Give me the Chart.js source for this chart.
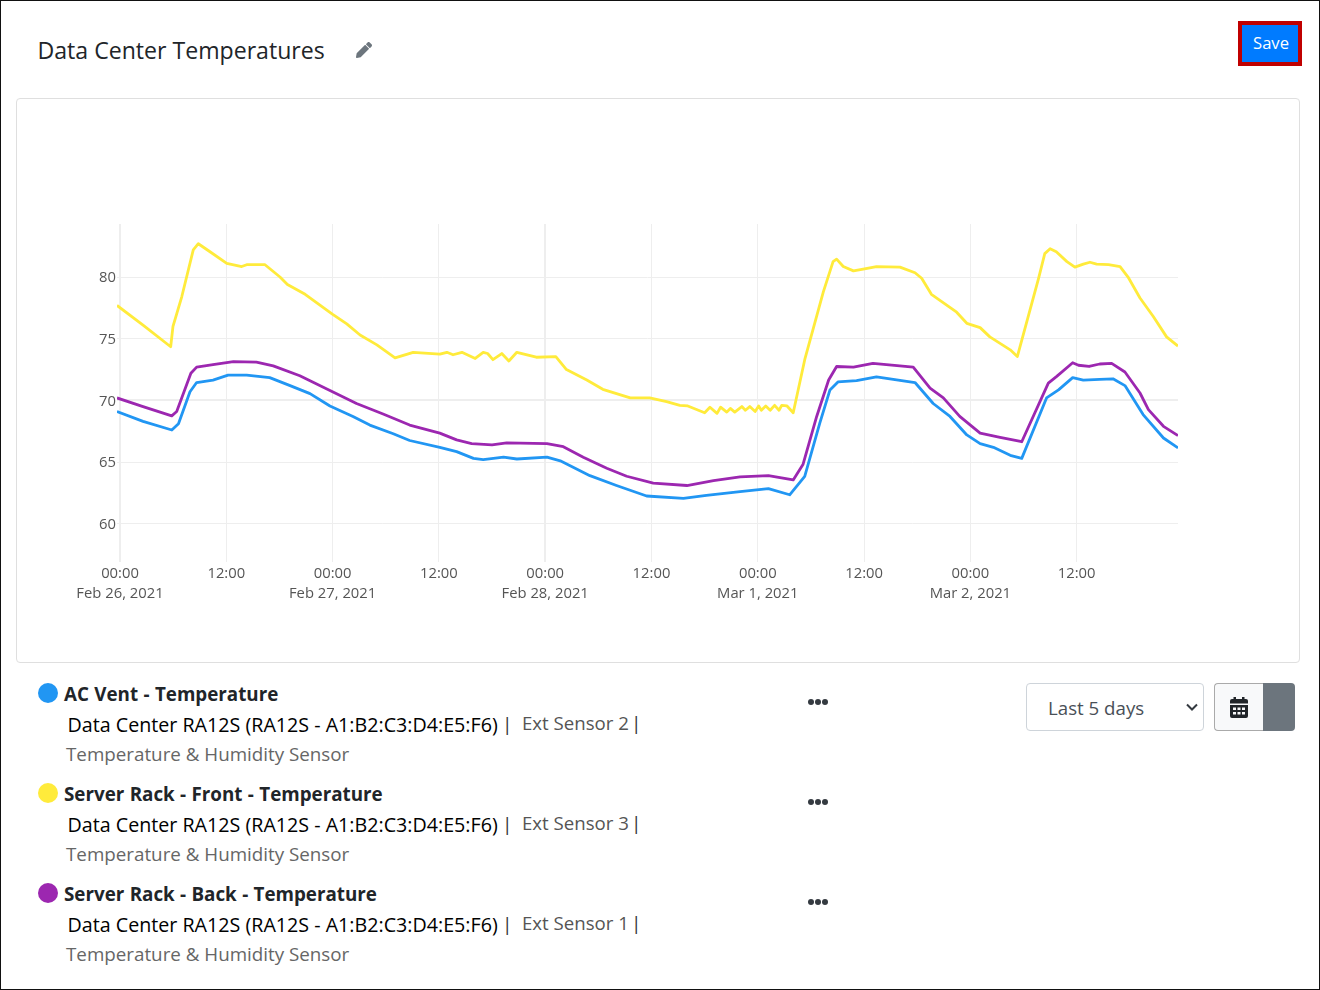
<!DOCTYPE html>
<html>
<head>
<meta charset="utf-8">
<title>Data Center Temperatures</title>
<script src="https://cdn.jsdelivr.net/npm/chart.js@4/dist/chart.umd.min.js"></script>
<style>
  html, body { margin: 0; padding: 0; background: #fff; }
  body { font-family: "Open Sans", "Noto Sans", sans-serif; color: #212529; }
  #frame { position: relative; width: 1320px; height: 990px; box-sizing: border-box; border: 1px solid #111; overflow: hidden; }
  #frame > * , #rows > * { position: absolute; white-space: nowrap; }
  /* frame border is 1px, so children are offset by -1 */
  #rows { left: 0; top: 0; }
  .title { left: 36.5px; top: 33px; font-size: 23.1px; line-height: 32px; color: #212529; }
  .pencil { left: 355px; top: 41px; width: 16px; height: 16px; fill: #6c757d; }
  .save { left: 1237px; top: 20px; width: 64px; height: 45px; box-sizing: border-box; background: #007bff; border: 4px solid #c00000; color: #fff; font-size: 16.6px; line-height: 35px; text-align: center; padding-left: 2px; }
  .card { left: 15px; top: 97px; width: 1284px; height: 565px; box-sizing: border-box; border: 1px solid #dfdfdf; border-radius: 4px; }
  canvas { position: absolute; left: 0; top: 0; }
  .dot { width: 20px; height: 20px; border-radius: 50%; }
  .name { font-size: 18.8px; font-weight: 700; line-height: 26px; color: #212529; word-spacing: 0.5px; }
  .device { font-size: 19.68px; line-height: 26px; color: #000; }
  .sep { font-size: 19px; line-height: 26px; color: #333; }
  .ext { font-size: 18.65px; line-height: 26px; color: #555; }
  .kind { font-size: 18.8px; line-height: 26px; color: #666; }
  .more { width: 20px; height: 6px; fill: #343a40; }
  .range { left: 1025px; top: 682px; width: 178px; height: 48px; box-sizing: border-box; border: 1px solid #ced4da; border-radius: 4px; font-size: 18.7px; line-height: 48px; color: #495057; padding-left: 21px; }
  .chev { position: absolute; left: 159px; top: 19px; width: 12px; height: 8px; }
  .cal { left: 1213px; top: 682px; width: 49px; height: 48px; box-sizing: border-box; background: #f8f9fa; border: 1px solid #aaa; border-right: 0; border-radius: 4px 0 0 4px; }
  .cal svg { position: absolute; left: 15px; top: 13px; width: 18px; height: 21px; }
  .calside { left: 1262px; top: 682px; width: 32px; height: 48px; background: #6c757d; border-radius: 0 4px 4px 0; }
</style>
</head>
<body>
<div id="frame">
  <div class="title">Data Center Temperatures</div>
  <svg class="pencil" viewBox="0 0 512 512"><path d="M497.9 142.1l-46.1 46.1c-4.7 4.7-12.3 4.7-17 0l-111-111c-4.7-4.7-4.7-12.3 0-17l46.1-46.1c18.7-18.7 49.1-18.7 67.9 0l60.1 60.1c18.8 18.7 18.8 49.1 0 67.9zM284.2 99.8L21.6 362.4.4 483.9c-2.9 16.4 11.4 30.6 27.8 27.8l121.5-21.3 262.6-262.6c4.7-4.7 4.7-12.3 0-17l-111-111c-4.8-4.7-12.4-4.7-17.1 0z"/></svg>
  <div class="save">Save</div>
  <div class="card"><canvas id="tempChart" width="1282" height="563"></canvas></div>
  <div id="rows"></div>
  <div class="range">Last 5 days
    <svg class="chev" viewBox="0 0 12 8"><path d="M1 1.5l5 5 5-5" fill="none" stroke="#343a40" stroke-width="2"/></svg>
  </div>
  <div class="cal">
    <svg viewBox="0 0 18 21" fill="#212529"><rect x="3.5" y="0" width="2.5" height="4"/><rect x="12" y="0" width="2.5" height="4"/><path d="M2 2h14a2 2 0 0 1 2 2v2.5H0V4a2 2 0 0 1 2-2z"/><path fill-rule="evenodd" d="M0 8h18v11a2 2 0 0 1-2 2H2a2 2 0 0 1-2-2zM3 10.5v2.500h3v-2.500zM7.500 10.500v2.500h3v-2.500zM12 10.500v2.500h3v-2.500zM3 15v2.500h3V15zM7.500 15v2.500h3V15zM12 15v2.500h3V15z"/></svg>
  </div>
  <div class="calside"></div>
</div>

<script>
// hours since Feb 26 2021 00:00, temperature in F
const xTickLabels = [['00:00', 'Feb 26, 2021'], '12:00', ['00:00', 'Feb 27, 2021'], '12:00', ['00:00', 'Feb 28, 2021'], '12:00', ['00:00', 'Mar 1, 2021'], '12:00', ['00:00', 'Mar 2, 2021'], '12:00'];

const blueHours = [-0.34, 2.6, 5.85, 6.6, 7.9, 8.65, 10.5, 12.2, 14.3, 16.9, 19.2, 21.45, 23.7, 26.3, 28.2, 30.85, 32.7, 36.1, 38.0, 39.9, 41.0, 43.3, 44.8, 48.2, 49.7, 53.05, 56.05, 59.45, 63.6, 66.2, 70.0, 73.2, 75.6, 77.3, 79.0, 80.15, 81.05, 83.15, 85.4, 89.75, 91.8, 93.7, 95.6, 97.1, 98.6, 100.5, 101.8, 104.6, 105.95, 107.55, 108.75, 110.6, 112.1, 113.45, 115.5, 117.8, 119.44];
const blueTemps = [69.1, 68.3, 67.6, 68.1, 70.7, 71.45, 71.65, 72.05, 72.05, 71.85, 71.2, 70.55, 69.55, 68.7, 68.0, 67.3, 66.75, 66.2, 65.85, 65.3, 65.2, 65.4, 65.25, 65.4, 65.1, 63.9, 63.1, 62.25, 62.05, 62.3, 62.6, 62.85, 62.35, 63.85, 68.15, 70.85, 71.5, 71.6, 71.9, 71.45, 69.75, 68.7, 67.2, 66.5, 66.2, 65.55, 65.3, 70.2, 70.85, 71.85, 71.65, 71.7, 71.75, 71.2, 68.85, 66.95, 66.15];

const yellowHours = [-0.34, 2.6, 5.72, 5.98, 6.97, 8.27, 8.84, 10.16, 12.05, 13.74, 14.3, 16.37, 18.06, 18.9, 20.9, 23.97, 25.6, 27.1, 29.0, 31.05, 33.1, 36.1, 36.9, 37.6, 38.6, 40.1, 41.0, 41.5, 42.1, 43.1, 43.9, 44.8, 47.0, 49.2, 50.4, 52.7, 54.5, 57.6, 59.8, 61.7, 63.2, 64.1, 66.0, 66.6, 67.4, 67.8, 68.5, 68.9, 69.4, 70.2, 70.6, 71.1, 71.7, 72.1, 72.4, 72.9, 73.4, 73.9, 74.4, 74.7, 75.3, 76.0, 77.3, 79.4, 80.5, 80.9, 81.65, 82.8, 83.9, 85.4, 88.05, 89.75, 90.5, 91.6, 94.45, 95.6, 97.1, 98.2, 100.5, 101.3, 103.7, 104.4, 105.0, 105.7, 106.9, 107.8, 108.75, 109.5, 110.25, 111.6, 112.9, 113.8, 115.15, 116.65, 118.15, 119.44];
const yellowTemps = [77.7, 76.1, 74.35, 76.0, 78.4, 82.2, 82.7, 82.05, 81.1, 80.85, 81.0, 81.0, 80.0, 79.4, 78.6, 77.0, 76.2, 75.3, 74.5, 73.45, 73.9, 73.75, 73.9, 73.7, 73.9, 73.4, 73.9, 73.8, 73.3, 73.8, 73.2, 73.9, 73.5, 73.55, 72.5, 71.65, 70.9, 70.2, 70.2, 69.9, 69.6, 69.55, 69.0, 69.45, 68.95, 69.45, 69.05, 69.35, 69.05, 69.5, 69.2, 69.5, 69.1, 69.55, 69.2, 69.55, 69.2, 69.6, 69.2, 69.6, 69.55, 69.0, 73.3, 78.8, 81.25, 81.45, 80.85, 80.5, 80.65, 80.85, 80.8, 80.35, 79.9, 78.6, 77.15, 76.25, 75.9, 75.15, 74.1, 73.55, 79.9, 81.9, 82.3, 82.05, 81.25, 80.8, 81.05, 81.2, 81.05, 81.0, 80.85, 80.0, 78.3, 76.8, 75.15, 74.4];

const purpleHours = [-0.34, 2.6, 5.84, 6.4, 8.0, 8.65, 10.5, 12.8, 15.4, 17.3, 20.3, 23.7, 26.7, 29.7, 32.7, 36.1, 38.0, 39.7, 42.0, 43.65, 48.2, 50.05, 52.3, 54.95, 57.2, 60.2, 64.0, 67.0, 70.0, 73.2, 76.0, 77.1, 78.65, 80.0, 80.9, 82.8, 85.0, 89.55, 91.45, 92.95, 94.8, 97.1, 99.35, 101.8, 104.8, 105.75, 107.55, 108.2, 109.4, 110.6, 111.95, 113.45, 115.15, 116.1, 117.8, 119.44];
const purpleTemps = [70.2, 69.5, 68.75, 69.1, 72.2, 72.7, 72.9, 73.15, 73.1, 72.8, 72.0, 70.8, 69.75, 68.9, 68.0, 67.35, 66.8, 66.5, 66.4, 66.55, 66.5, 66.25, 65.4, 64.5, 63.85, 63.3, 63.1, 63.5, 63.8, 63.9, 63.55, 64.8, 68.7, 71.65, 72.75, 72.7, 73.0, 72.7, 71.0, 70.2, 68.7, 67.35, 67.0, 66.65, 71.4, 71.95, 73.05, 72.85, 72.75, 72.95, 73.0, 72.3, 70.6, 69.25, 67.9, 67.15];

const seriesNames = ['AC Vent - Temperature', 'Server Rack - Front - Temperature', 'Server Rack - Back - Temperature'];
const seriesColors = ['#2196f3', '#ffeb3b', '#9c27b0'];
const sensorNames = ['Ext Sensor 2', 'Ext Sensor 3', 'Ext Sensor 1'];
const deviceName = 'Data Center RA12S (RA12S - A1:B2:C3:D4:E5:F6)';
const sensorKind = 'Temperature & Humidity Sensor';

function toPoints(hours, temps) {
  return hours.map((h, i) => ({ x: h, y: temps[i] }));
}

// legend rows under the chart
const rows = document.getElementById('rows');
function addRow(html, left, top, cls) {
  const el = document.createElement('div');
  el.className = cls;
  el.style.left = left + 'px';
  el.style.top = top + 'px';
  el.innerHTML = html;
  rows.appendChild(el);
  return el;
}
seriesNames.forEach((name, i) => {
  const off = i * 100;
  addRow('', 37, 682 + off, 'dot').style.background = seriesColors[i];
  addRow(name, 63, 680 + off, 'name');
  addRow(deviceName, 66.5, 711 + off, 'device');
  addRow('|', 501, 710 + off, 'sep');
  addRow(sensorNames[i], 521, 709 + off, 'ext');
  addRow('|', 630, 709 + off, 'sep');
  addRow(sensorKind.replace('&', '&amp;'), 65, 740 + off, 'kind');
  addRow('<svg class="more" viewBox="0 0 20 6" style="display:block"><circle cx="3" cy="3" r="3"/><circle cx="10" cy="3" r="3"/><circle cx="17" cy="3" r="3"/></svg>', 807, 698 + off, '');
});

new Chart(document.getElementById('tempChart'), {
  type: 'line',
  data: {
    datasets: [
      { label: seriesNames[0], data: toPoints(blueHours, blueTemps), borderColor: seriesColors[0] },
      { label: seriesNames[1], data: toPoints(yellowHours, yellowTemps), borderColor: seriesColors[1] },
      { label: seriesNames[2], data: toPoints(purpleHours, purpleTemps), borderColor: seriesColors[2] },
    ],
  },
  options: {
    responsive: false,
    animation: false,
    datasets: { line: { borderWidth: 2.8, pointRadius: 0, tension: 0, borderJoinStyle: 'round' } },
    layout: { padding: { top: 125, right: 121, left: 0, bottom: 0 } },
    plugins: { legend: { display: false }, tooltip: { enabled: false } },
    scales: {
      x: {
        type: 'linear',
        min: -0.34,
        max: 119.44,
        afterFit: (scale) => { scale.height = 100; },
        border: { display: false },
        grid: {
          color: '#eeeeee',
          drawTicks: false,
          lineWidth: (ctx) => (ctx.tick && (ctx.tick.value === 0 || ctx.tick.value === 48) ? 2 : 1),
        },
        ticks: {
          stepSize: 12,
          includeBounds: false,
          autoSkip: false,
          maxRotation: 0,
          padding: 2,
          color: '#555',
          font: { family: '"Open Sans"', size: 14.8, lineHeight: 1.35 },
          callback: (value) => xTickLabels[value / 12],
        },
      },
      y: {
        min: 56.9,
        max: 84.3,
        afterFit: (scale) => { scale.width = 100; },
        border: { display: false },
        grid: {
          color: '#eeeeee',
          drawTicks: false,
          lineWidth: (ctx) => (ctx.tick && ctx.tick.value === 70 ? 2 : 1),
        },
        ticks: {
          stepSize: 5,
          includeBounds: false,
          padding: 1,
          labelOffset: 1,
          color: '#555',
          font: { family: '"Open Sans"', size: 14.8 },
        },
      },
    },
  },
});
</script>
</body>
</html>
